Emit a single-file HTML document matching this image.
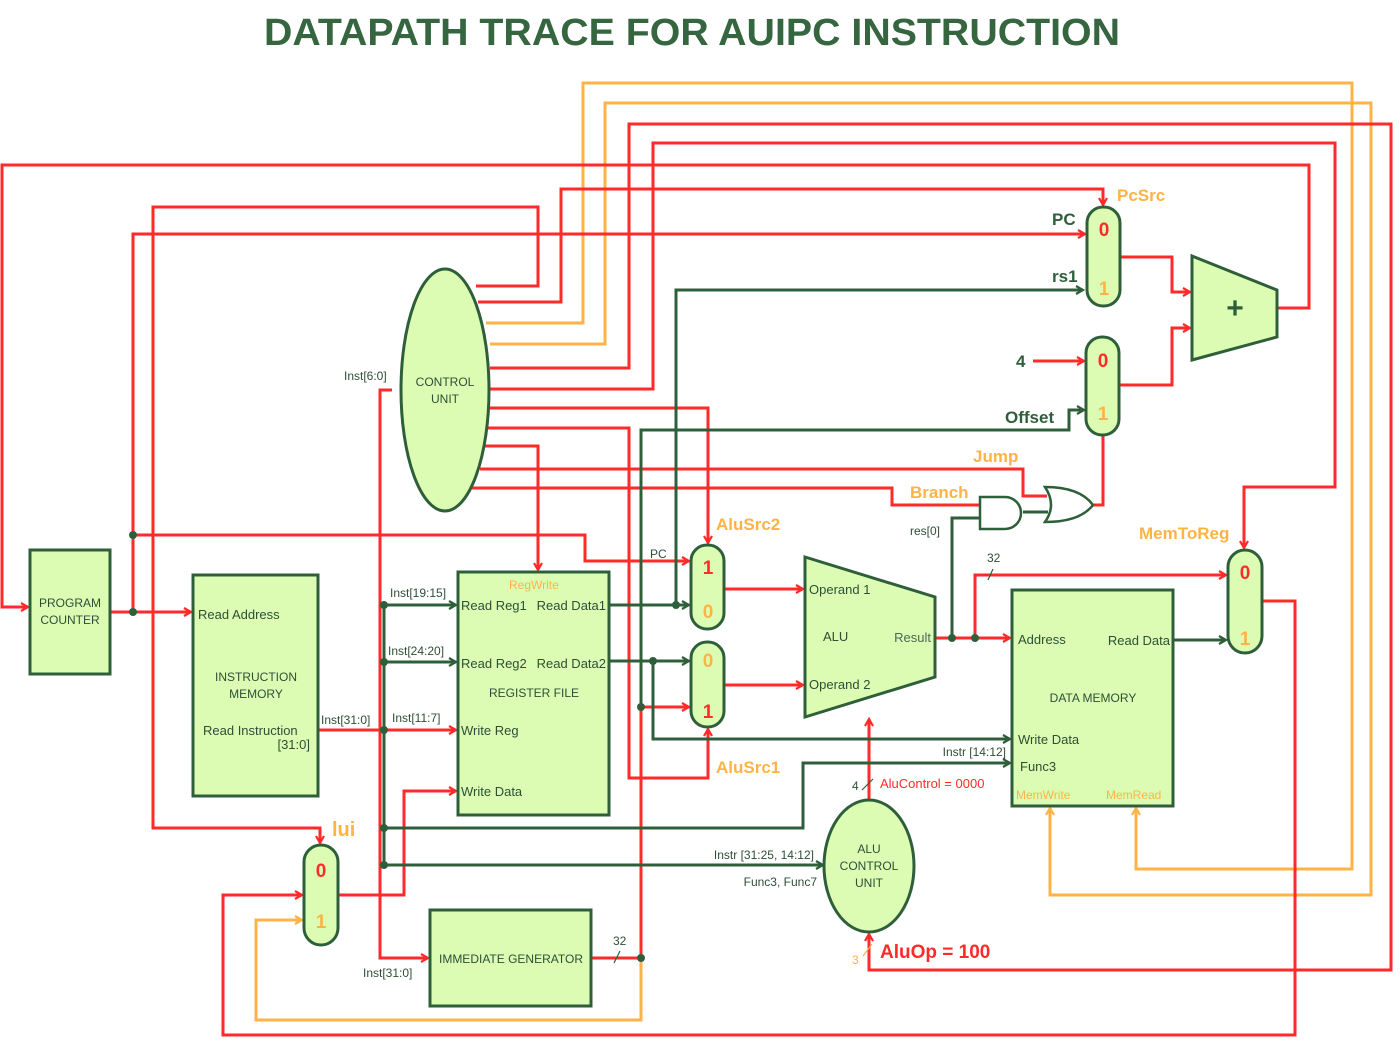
<!DOCTYPE html>
<html><head><meta charset="utf-8"><style>
html,body{margin:0;padding:0;background:#fff;}
svg{display:block;}
text{font-family:"Liberation Sans",sans-serif;}
.l{font-size:13px;fill:#2d4f35;}
.s{font-size:12px;fill:#2d4f35;}
.o{fill:#ffb347;}
.r{fill:#ff2a2a;}
.mn{font-size:19px;font-weight:bold;text-anchor:middle;}
</style></head><body>
<svg width="1400" height="1043" viewBox="0 0 1400 1043" xmlns="http://www.w3.org/2000/svg">
<defs>
<marker id="ar" markerWidth="10" markerHeight="10" refX="8" refY="5" orient="auto" markerUnits="userSpaceOnUse"><path d="M1,1 L8,5 L1,9" fill="none" stroke="#ff2a2a" stroke-width="2.2"/></marker>
<marker id="ag" markerWidth="10" markerHeight="10" refX="8" refY="5" orient="auto" markerUnits="userSpaceOnUse"><path d="M1,1 L8,5 L1,9" fill="none" stroke="#2f5f3a" stroke-width="2.2"/></marker>
<marker id="ao" markerWidth="10" markerHeight="10" refX="8" refY="5" orient="auto" markerUnits="userSpaceOnUse"><path d="M1,1 L8,5 L1,9" fill="none" stroke="#ffb347" stroke-width="2.2"/></marker>
</defs>
<text x="692" y="45" text-anchor="middle" font-size="38" font-weight="bold" fill="#356640" textLength="856" lengthAdjust="spacingAndGlyphs">DATAPATH TRACE FOR AUIPC INSTRUCTION</text>

<g fill="none" stroke-width="3" stroke-linejoin="miter">
<!-- orange -->
<g stroke="#ffb347">
<polyline points="486,323 583,323 583,83 1352,83 1352,869 1136,869 1136,808" marker-end="url(#ao)"/>
<polyline points="490,344 605,344 605,103 1371,103 1371,895 1050,895 1050,808" marker-end="url(#ao)"/>
<polyline points="641,958 641,1020 256,1020 256,920 302,920" marker-end="url(#ao)"/>
</g>
<!-- red -->
<g stroke="#ff2a2a">
<polyline points="1277,308 1309,308 1309,165 2,165 2,607 28,607" marker-end="url(#ar)"/>
<polyline points="110,612 191,612" marker-end="url(#ar)"/>
<polyline points="133,612 133,234 1085,234" marker-end="url(#ar)"/>
<polyline points="133,535 585,535 585,561 689,561" marker-end="url(#ar)"/>
<polyline points="476,286 538,286 538,207 153,207 153,828 320,828 320,843" marker-end="url(#ar)"/>
<polyline points="478,302 561,302 561,189 1103,189 1103,205" marker-end="url(#ar)"/>
<polyline points="490,368 629,368 629,124 1391,124 1391,970 869,970 869,934" marker-end="url(#ar)"/>
<polyline points="490,389 653,389 653,143 1335,143 1335,487 1244,487 1244,548" marker-end="url(#ar)"/>
<polyline points="489,408 708,408 708,543" marker-end="url(#ar)"/>
<polyline points="488,428 629,428 629,778 708,778 708,729" marker-end="url(#ar)"/>
<polyline points="485,446 538,446 538,570" marker-end="url(#ar)"/>
<polyline points="480,469 1023,469 1023,496 1047,496"/>
<polyline points="472,488 892,488 892,505 981,505"/>
<polyline points="1092,505 1103,505 1103,435"/>
<polyline points="1120,257 1172,257 1172,292 1190,292" marker-end="url(#ar)"/>
<polyline points="1119,385 1172,385 1172,328 1190,328" marker-end="url(#ar)"/>
<polyline points="1033,361 1084,361" marker-end="url(#ar)"/>
<polyline points="724,589 803,589" marker-end="url(#ar)"/>
<polyline points="724,685 803,685" marker-end="url(#ar)"/>
<polyline points="935,638 1010,638" marker-end="url(#ar)"/>
<polyline points="975,638 975,575 1226,575" marker-end="url(#ar)"/>
<polyline points="1262,601 1295,601 1295,1035 223,1035 223,895 302,895" marker-end="url(#ar)"/>
<polyline points="338,895 404,895 404,791 456,791" marker-end="url(#ar)"/>
<polyline points="318,730 456,730" marker-end="url(#ar)"/>
<polyline points="392,390 380,390 380,958 428,958" marker-end="url(#ar)"/>
<polyline points="591,958 641,958 641,707"/>
<polyline points="641,707 689,707" marker-end="url(#ar)"/>
<polyline points="869,800 869,719" marker-end="url(#ar)"/>
</g>
<!-- green -->
<g stroke="#2f5f3a">
<polyline points="384,605 384,865"/>
<polyline points="384,605 456,605" marker-end="url(#ag)"/>
<polyline points="384,662 456,662" marker-end="url(#ag)"/>
<polyline points="384,828 803,828 803,763 1010,763" marker-end="url(#ag)"/>
<polyline points="384,865 823,865" marker-end="url(#ag)"/>
<polyline points="609,605 689,605" marker-end="url(#ag)"/>
<polyline points="676,605 676,290 1083,290" marker-end="url(#ag)"/>
<polyline points="609,661 689,661" marker-end="url(#ag)"/>
<polyline points="653,661 653,739 1010,739" marker-end="url(#ag)"/>
<polyline points="641,707 641,430 1069,430 1069,410 1084,410" marker-end="url(#ag)"/>
<polyline points="952,638 952,518 981,518"/>
<polyline points="1023,512 1048,512"/>
<polyline points="1173,640 1226,640" marker-end="url(#ag)"/>
</g>
</g>
<!-- dots -->
<g fill="#2f5f3a">
<circle cx="133" cy="612" r="4"/><circle cx="133" cy="535" r="4"/>
<circle cx="384" cy="605" r="4"/><circle cx="384" cy="662" r="4"/><circle cx="384" cy="730" r="4"/>
<circle cx="384" cy="828" r="4"/><circle cx="384" cy="865" r="4"/>
<circle cx="676" cy="605" r="4"/><circle cx="653" cy="661" r="4"/><circle cx="641" cy="707" r="4"/>
<circle cx="641" cy="958" r="4"/><circle cx="952" cy="638" r="4"/><circle cx="975" cy="638" r="4"/>
</g>

<!-- components -->
<g fill="#dcfcb4" stroke="#2f5f3a" stroke-width="3">
<rect x="30" y="550" width="80" height="124"/>
<rect x="193" y="575" width="125" height="221"/>
<rect x="458" y="572" width="151" height="243"/>
<rect x="430" y="910" width="161" height="96"/>
<rect x="1012" y="590" width="161" height="216"/>
<ellipse cx="445" cy="390" rx="44" ry="121"/>
<ellipse cx="869" cy="866" rx="45" ry="66"/>
<polygon points="805,557 935,597 935,677 805,717"/>
<polygon points="1192,256 1277,290 1277,337 1192,360"/>
<rect x="1087" y="207" width="33" height="99" rx="16"/>
<rect x="1086" y="337" width="33" height="98" rx="16"/>
<rect x="691" y="545" width="33" height="84" rx="16"/>
<rect x="691" y="642" width="33" height="85" rx="16"/>
<rect x="1228" y="550" width="34" height="103" rx="17"/>
<rect x="304" y="845" width="34" height="100" rx="17"/>
</g>
<g fill="#fff" stroke="#2f5f3a" stroke-width="2.5">
<path d="M980,497 L1005,497 A16,16 0 0 1 1005,529 L980,529 Z"/>
<path d="M1045,487 Q1080,487 1093,505 Q1080,522 1045,522 Q1057,505 1045,487 Z"/>
</g>
<text x="1235" y="318" font-size="30" font-weight="bold" fill="#2f5f3a" text-anchor="middle">+</text>

<!-- mux numbers -->
<text class="mn r" x="1104" y="236">0</text><text class="mn o" x="1104" y="295">1</text>
<text class="mn r" x="1103" y="367">0</text><text class="mn o" x="1103" y="420">1</text>
<text class="mn r" x="708" y="574">1</text><text class="mn o" x="708" y="618">0</text>
<text class="mn o" x="708" y="667">0</text><text class="mn r" x="708" y="718">1</text>
<text class="mn r" x="1245" y="579">0</text><text class="mn o" x="1245" y="645">1</text>
<text class="mn r" x="321" y="877">0</text><text class="mn o" x="321" y="928">1</text>

<!-- component labels -->
<g class="s" text-anchor="middle">
<text x="70" y="607">PROGRAM</text><text x="70" y="624">COUNTER</text>
<text x="256" y="681">INSTRUCTION</text><text x="256" y="698">MEMORY</text>
<text x="445" y="386">CONTROL</text><text x="445" y="403">UNIT</text>
<text x="534" y="697">REGISTER FILE</text>
<text x="511" y="963">IMMEDIATE GENERATOR</text>
<text x="1093" y="702">DATA MEMORY</text>
<text x="869" y="853">ALU</text><text x="869" y="870">CONTROL</text><text x="869" y="887">UNIT</text>
</g>
<g class="l">
<text x="198" y="619">Read Address</text>
<text x="203" y="735">Read Instruction</text>
<text x="310" y="749" text-anchor="end">[31:0]</text>
<text x="461" y="610">Read Reg1</text><text x="606" y="610" text-anchor="end">Read Data1</text>
<text x="461" y="668">Read Reg2</text><text x="606" y="668" text-anchor="end">Read Data2</text>
<text x="461" y="735">Write Reg</text>
<text x="461" y="796">Write Data</text>
<text x="809" y="594">Operand 1</text><text x="809" y="689">Operand 2</text>
<text x="823" y="641">ALU</text><text x="931" y="642" text-anchor="end" fill="#4a6a50">Result</text>
<text x="1018" y="644">Address</text><text x="1170" y="645" text-anchor="end">Read Data</text>
<text x="1018" y="744">Write Data</text><text x="1020" y="771">Func3</text>
</g>
<g class="s">
<text x="344" y="380">Inst[6:0]</text>
<text x="390" y="597">Inst[19:15]</text>
<text x="388" y="655">Inst[24:20]</text>
<text x="321" y="724">Inst[31:0]</text>
<text x="392" y="722">Inst[11:7]</text>
<text x="363" y="977">Inst[31:0]</text>
<text x="650" y="558">PC</text>
<text x="910" y="535">res[0]</text>
<text x="987" y="562">32</text>
<text x="613" y="945">32</text>
<text x="1006" y="756" text-anchor="end">Instr [14:12]</text>
<text x="814" y="859" text-anchor="end">Instr [31:25, 14:12]</text>
<text x="817" y="886" text-anchor="end">Func3, Func7</text>
<text x="852" y="790">4</text>
</g>
<g stroke="#2f5f3a" stroke-width="1.2"><line x1="988" y1="580" x2="993" y2="569"/><line x1="614" y1="963" x2="620" y2="951"/><line x1="862" y1="790" x2="873" y2="779"/></g>
<line x1="863" y1="956" x2="872" y2="944" stroke="#ffb347" stroke-width="1.2"/>
<text x="1016" y="799" font-size="12" class="o">MemWrite</text>
<text x="1106" y="799" font-size="12" class="o">MemRead</text>
<text x="509" y="589" font-size="12" class="o">RegWrite</text>
<text x="880" y="788" font-size="13" class="r">AluControl = 0000</text>
<text x="880" y="958" font-size="19" font-weight="bold" class="r">AluOp = 100</text>
<text x="852" y="964" font-size="12" class="o">3</text>
<g font-size="17" font-weight="bold" class="o">
<text x="1117" y="201">PcSrc</text>
<text x="973" y="462">Jump</text>
<text x="910" y="498">Branch</text>
<text x="716" y="530">AluSrc2</text>
<text x="716" y="773">AluSrc1</text>
<text x="1139" y="539">MemToReg</text>
<text x="332" y="836" font-size="20">lui</text>
</g>
<g font-size="17" font-weight="bold" fill="#2f5f3a">
<text x="1052" y="225">PC</text>
<text x="1052" y="282">rs1</text>
<text x="1016" y="367">4</text>
<text x="1005" y="423">Offset</text>
</g>
</svg>
</body></html>
